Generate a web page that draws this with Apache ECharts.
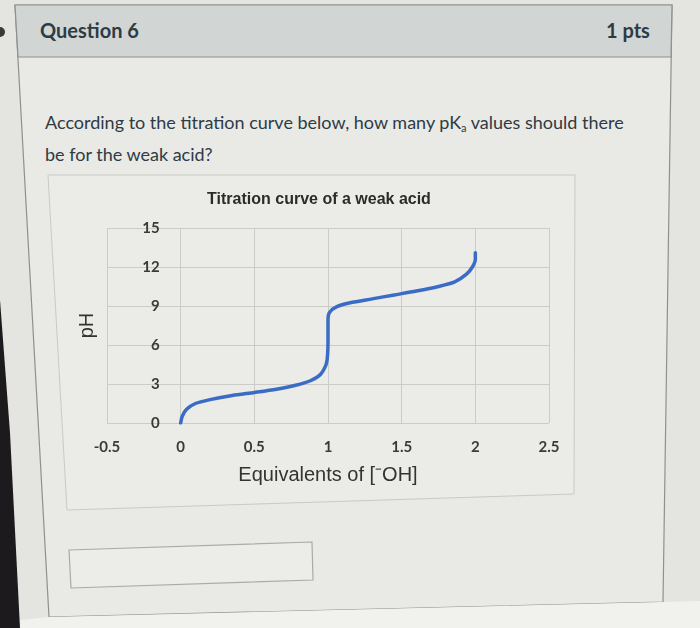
<!DOCTYPE html>
<html>
<head>
<meta charset="utf-8">
<script src="https://cdn.jsdelivr.net/npm/echarts@6/dist/echarts.min.js"></script>
<style>
  html, body { margin:0; padding:0; width:700px; height:628px; overflow:hidden; background:#e4e5e1; }
  #page { position:absolute; left:0; top:0; width:700px; height:628px; }
  #deco { position:absolute; left:0; top:0; }
  .txt { position:absolute; font-family:Lato, "Noto Sans", sans-serif; color:#2d3b45; white-space:nowrap; }
  #chart { position:absolute; left:0; top:0; width:700px; height:628px; }
</style>
</head>
<body>
<div id="page">
  <svg id="deco" width="700" height="628" viewBox="0 0 700 628">
    <polygon points="15,5 672,5 663,602 49,617" fill="#e9e9e5" stroke="#8e918f" stroke-width="1.2"/>
    <polygon points="15,5 672,5 671,57 18,57" fill="#d1d5d4" stroke="#8e918f" stroke-width="1.2"/>
    <polygon points="48,175 575,175 574,494 67,510" fill="#ebebe7" stroke="#c9cac6" stroke-width="1"/>
    <polygon points="69,550 312,542 313,580 71,588" fill="#ecede9" stroke="#a9aba7" stroke-width="1.2"/>
    <polygon points="0,622 49,617 663,602 700,601 700,628 0,628" fill="#f1f1ee"/>
    <polygon points="0,300 10,433 20,628 0,628" fill="#1c1a1c"/>
    <circle cx="0" cy="32" r="5" fill="#3a3a3a"/>
  </svg>
  <div class="txt" style="left:40px; top:18px; font-size:20px; font-weight:700;">Question 6</div>
  <div class="txt" style="left:606px; top:18px; font-size:20px; font-weight:700;">1 pts</div>
  <div class="txt" style="left:45px; top:109px; font-size:18px; line-height:27px;">According to the titration curve below, how many pK<sub style="font-size:11px; vertical-align:-3px;">a</sub> values should there<br>be for the weak acid?</div>
  <div id="chart"></div>
</div>
<script>
// ---- data ----
const titleText = "Titration curve of a weak acid";
const xName = "Equivalents of [\u207BOH]";
const yName = "pH";
const xTicks = [-0.5, 0, 0.5, 1, 1.5, 2, 2.5];
const yTicks = [0, 3, 6, 9, 12, 15];
const equivalents = [0, 0.01, 0.04, 0.1, 0.2, 0.35, 0.5, 0.65, 0.78, 0.88, 0.95, 0.99, 1.0, 1.0, 1.01, 1.06, 1.15, 1.3, 1.45, 1.6, 1.75, 1.86, 1.94, 1.98, 2.0, 2.0];
const pH = [0, 0.5, 1.05, 1.5, 1.8, 2.12, 2.35, 2.6, 2.9, 3.25, 3.75, 4.6, 6.3, 7.9, 8.5, 8.95, 9.25, 9.55, 9.85, 10.15, 10.5, 10.85, 11.45, 12.0, 12.6, 13.1];

const points = equivalents.map((x, i) => [x, pH[i]]);
const gridLeft = 107, gridRight = 151;
const gridWidth = 700 - gridLeft - gridRight;
const xMin = xTicks[0], xMax = xTicks[xTicks.length - 1];
// y axis sits where x = 0 (as in the reference)
const yAxisOffset = -gridWidth * (0 - xMin) / (xMax - xMin);

const chart = echarts.init(document.getElementById('chart'), null, { renderer: 'canvas' });
const grid = '#cbccc8';
chart.setOption({
  backgroundColor: 'transparent',
  animation: false,
  title: {
    text: titleText,
    left: 314, top: 187, textAlign: 'center',
    textStyle: { fontFamily: '"Liberation Sans", Arial, sans-serif', fontSize: 16, fontWeight: 'bold', color: '#2b2b2b' }
  },
  grid: { left: gridLeft, right: gridRight, top: 228, bottom: 205, containLabel: false },
  xAxis: {
    type: 'value',
    min: xMin, max: xMax, interval: xTicks[1] - xTicks[0],
    name: xName, nameLocation: 'middle', nameGap: 42,
    nameTextStyle: { fontFamily: '"Liberation Sans", Arial, sans-serif', fontSize: 20, color: '#333' },
    axisLine: { show: false }, axisTick: { show: false },
    axisLabel: { margin: 17, fontFamily: 'Lato, sans-serif', fontWeight: 'bold', fontSize: 15, color: '#3a3a3a' },
    splitLine: { show: true, lineStyle: { color: grid, width: 1 } }
  },
  yAxis: {
    type: 'value',
    min: yTicks[0], max: yTicks[yTicks.length - 1], interval: yTicks[1] - yTicks[0],
    offset: yAxisOffset,
    name: yName, nameLocation: 'middle', nameGap: 83, nameRotate: 90,
    nameTextStyle: { fontFamily: '"Liberation Sans", Arial, sans-serif', fontSize: 20, color: '#333' },
    axisLine: { show: false, onZero: false }, axisTick: { show: false },
    axisLabel: { margin: 21, fontFamily: 'Lato, sans-serif', fontWeight: 'bold', fontSize: 15, color: '#3a3a3a' },
    splitLine: { show: true, lineStyle: { color: grid, width: 1 } }
  },
  series: [{
    type: 'line',
    data: points,
    smooth: 0.25,
    showSymbol: false,
    lineStyle: { color: '#3a6cc6', width: 3.5, cap: 'round', join: 'round' }
  }]
});
</script>
</body>
</html>
